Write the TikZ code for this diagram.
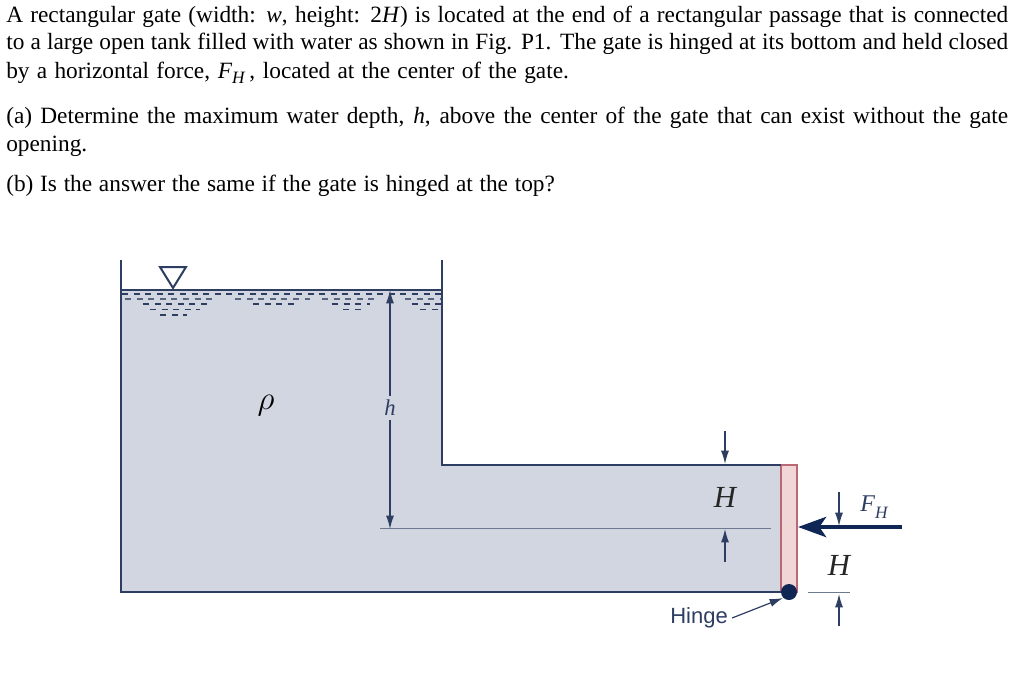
\documentclass[tikz,border=0pt]{standalone}
\usepackage{fontspec}
\setmainfont{Liberation Serif}
\setsansfont{Liberation Sans}
\usetikzlibrary{arrows.meta}
\definecolor{water}{RGB}{210,214,224}
\definecolor{navy}{RGB}{46,62,98}
\definecolor{deep}{RGB}{16,38,84}
\definecolor{gatefill}{RGB}{240,214,214}
\definecolor{gateline}{RGB}{186,104,116}
\newcommand{\jline}[2]{\makebox[#1][s]{#2}}
\tikzset{
  x=0.75pt,y=-0.75pt,
  body/.style={anchor=base west,inner sep=0pt,font=\fontsize{17.5}{20}\selectfont},
  wall/.style={navy,line width=1.1pt},
  thin dim/.style={navy,line width=0.9pt,-{Latex[length=10pt,width=6pt]}},
  ref line/.style={navy!70,line width=0.8pt},
  ripple/.style={navy,line width=1.1pt,dash pattern=on 4.5pt off 4.2pt},
  mathlabel/.style={inner sep=0pt,font=\fontsize{20}{24}\selectfont\itshape,text=black!85},
}
\begin{document}
\begin{tikzpicture}
\useasboundingbox (0,0) rectangle (1024,683);
\fill[white] (0,0) rectangle (1024,683);
% text
\node[body] (t1) at (6,22) {\jline{751.5pt}{A rectangular gate (width: \textit{w}, height: 2\textit{H}) is located at the end of a rectangular passage that is connected}};
\node[body] (t2) at (6,49) {\jline{751.5pt}{to a large open tank filled with water as shown in Fig. P1. The gate is hinged at its bottom and held closed}};
\node[body] (t3) at (6,78) {\jline{422pt}{by a horizontal force, \textit{F}\raisebox{-0.25em}{\fontsize{13}{13}\selectfont\textit{H}}\,, located at the center of the gate.}};
\node[body] (t4) at (6,123) {\jline{751.5pt}{(a) Determine the maximum water depth, \textit{h}, above the center of the gate that can exist without the gate}};
\node[body] (t5) at (6,151) {opening.};
\node[body] (t6) at (6,191) {\jline{411.5pt}{(b) Is the answer the same if the gate is hinged at the top?}};
% water
\fill[water] (121,290) -- (442,290) -- (442,465) -- (781,465) -- (781,592) -- (121,592) -- cycle;
% gate
\filldraw[fill=gatefill,draw=gateline,line width=1pt] (781,465) rectangle (797,592);
% walls
\draw[wall] (121,260) -- (121,592) -- (781,592);
\draw[wall] (442,260) -- (442,465) -- (781,465);
\draw[navy,line width=1.2pt] (121,290) -- (442,290);
% surface symbol
\draw[navy,line width=1.5pt] (160,267) -- (186,267) -- (173,288) -- cycle;
% ripples
\draw[ripple] (122,294) -- (441,294);
\draw[ripple,navy!80] (125,299) -- (217,299) (235,299) -- (310,299) (322,299) -- (375,299) (405,299) -- (441,299);
\draw[ripple] (143,304) -- (210,304) (253,304) -- (295,304) (332,304) -- (370,304) (412,304) -- (441,304);
\draw[ripple] (150,309.5) -- (200,309.5) (343,309.5) -- (363,309.5) (420,309.5) -- (438,309.5);
\draw[ripple] (160,315) -- (187,315);
% hinge
\fill[deep] (789,592) circle (8);
\coordinate (hingept) at (783,598);
% centre lines
\draw[ref line] (380,528.5) -- (771,528.5);
\draw[ref line] (808,592.5) -- (850,592.5);
% labels
\node[inner sep=0pt,font=\fontsize{24}{26}\selectfont] (rho) at (266,406) {$\rho$};
\node[mathlabel,text=navy,fill=water,inner xsep=1pt,inner ysep=3pt,font=\fontsize{17}{20}\selectfont\itshape] (hlab) at (390,408) {h};
\node[mathlabel,font=\fontsize{23}{28}\selectfont\itshape] (H1) at (725,497) {H};
\node[mathlabel,font=\fontsize{23}{28}\selectfont\itshape] (H2) at (839,565) {H};
\node[mathlabel,text=navy,font=\fontsize{18}{20}\selectfont\itshape] (FH) at (874,507) {F\raisebox{-0.3em}{\fontsize{13}{13}\selectfont H}};
\node[inner sep=0pt,text=navy,font=\fontsize{16.5}{20}\selectfont\sffamily] (hinge) at (699,618) {Hinge};
% dimension coordinates
\coordinate (hTop) at (390,290);
\coordinate (hBot) at (390,529);
\coordinate (a1) at (725,431);
\coordinate (a1e) at (725,464);
\coordinate (a2) at (725,562);
\coordinate (a2e) at (725,529);
\coordinate (b1) at (839,492);
\coordinate (b1e) at (839,526);
\coordinate (b2) at (839,626);
\coordinate (b2e) at (839,594);
\coordinate (fStart) at (902,527);
\coordinate (fEnd) at (798,527);
% dims
\draw[thin dim] (hlab.north) -- (hTop);
\draw[thin dim] (hlab.south) -- (hBot);
\draw[thin dim] (a1) -- (a1e);
\draw[thin dim] (a2) -- (a2e);
\draw[thin dim] (b1) -- (b1e);
\draw[thin dim] (b2) -- (b2e);
\draw[deep,line width=3.5pt,-{Stealth[length=21pt,width=15pt,inset=5pt]}] (fStart) -- (fEnd);
\draw[navy,line width=0.9pt,-{Latex[length=10pt,width=6pt]}] (hinge.east) ++(4,0) -- (hingept);
\end{tikzpicture}
\end{document}
